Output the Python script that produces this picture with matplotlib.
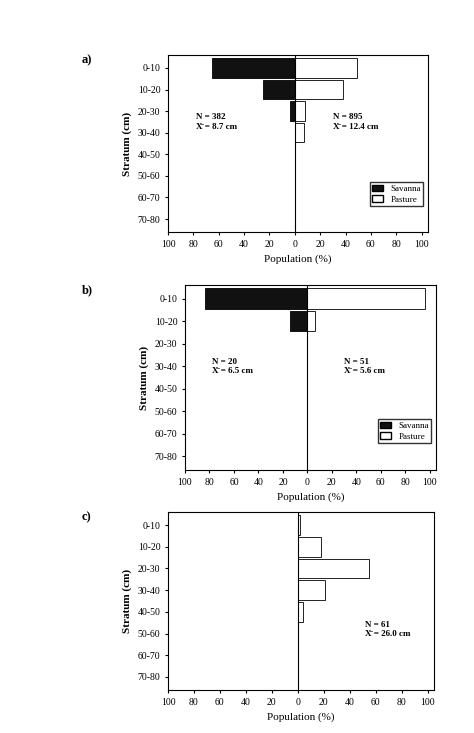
import matplotlib.pyplot as plt
import numpy as np

strata = ['0-10','10-20','20-30','30-40','40-50','50-60','60-70','70-80']
a_sav = [65, 25, 4, 0, 0, 0, 0, 0]
a_pas = [49, 38, 8, 7, 0, 0, 0, 0]
b_sav = [84, 14, 0, 0, 0, 0, 0, 0]
b_pas = [96, 6, 0, 0, 0, 0, 0, 0]
c_pas = [2, 18, 55, 21, 4, 0, 0, 0]
ticks = [-100,-80,-60,-40,-20,0,20,40,60,80,100]
ticklabels = ['100','80','60','40','20','0','20','40','60','80','100']

plt.rcParams['font.family'] = 'Liberation Serif'
fig = plt.figure(figsize=(4.74, 7.33), dpi=100)
W, H = 474, 733
boxes = [(168, 55, 428, 232), (185, 285, 436, 470), (168, 512, 434, 690)]
labels = ['a)', 'b)', 'c)']
ann = [(('N = 382', 'X̄ = 8.7 cm'), ('N = 895', 'X̄ = 12.4 cm')),
       (('N = 20', 'X̄ = 6.5 cm'), ('N = 51', 'X̄ = 5.6 cm')),
       (None, ('N = 61', 'X̄ = 26.0 cm'))]
sav = [a_sav, b_sav, None]
pas = [a_pas, b_pas, c_pas]
y = np.arange(len(strata))
for i, (x0, y0, x1, y1) in enumerate(boxes):
    ax = fig.add_axes([x0/W, 1-y1/H, (x1-x0)/W, (y1-y0)/H])
    if sav[i] is not None:
        ax.barh(y, [-v for v in sav[i]], height=0.9, color='#111111', edgecolor='black', linewidth=0.6)
    ax.barh(y, pas[i], height=0.9, color='white', edgecolor='black', linewidth=0.6)
    ax.axvline(0, color='black', lw=0.8)
    ax.set_xlim(-100, 105)
    ax.set_ylim(7.6, -0.6)
    ax.set_yticks(y)
    ax.set_yticklabels(strata, fontsize=7)
    ax.set_xticks(ticks)
    ax.set_xticklabels(ticklabels, fontsize=7)
    ax.tick_params(length=2)
    ax.set_xlabel('Population (%)', fontsize=8)
    ax.set_ylabel('Stratum (cm)', fontsize=8, fontweight='bold')
    fig.text(82/W, 1-(y0+8)/H, labels[i], fontsize=9, fontweight='bold')
    l, r = ann[i]
    if l:
        ax.text(-78, 2.5 if i == 0 else 3.0, l[0] + '\n' + l[1], fontsize=6.5, fontweight='bold', va='center')
    ax.text(30 if i < 2 else 52, 2.5 if i == 0 else (3.0 if i == 1 else 4.8), r[0] + '\n' + r[1], fontsize=6.5, fontweight='bold', va='center')
    if i < 2:
        from matplotlib.patches import Patch
        ax.legend(handles=[Patch(facecolor='#111111', edgecolor='black', label='Savanna'),
                           Patch(facecolor='white', edgecolor='black', label='Pasture')],
                  loc='lower right', bbox_to_anchor=(1.0, 0.12), fontsize=6.5, frameon=True,
                  fancybox=False, edgecolor='black', handlelength=1.2, borderpad=0.3, labelspacing=0.2)
fig.savefig('out.png', dpi=100)
